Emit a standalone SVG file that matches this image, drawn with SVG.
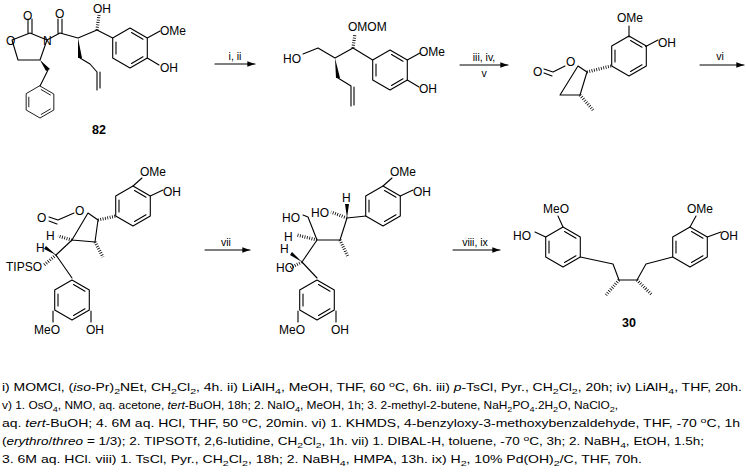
<svg xmlns="http://www.w3.org/2000/svg" xmlns:xlink="http://www.w3.org/1999/xlink" width="746" height="475" viewBox="0 0 746 475">
<style>
.b{fill:none;stroke:#000;stroke-width:1.1;stroke-linecap:round;stroke-linejoin:round}
.h{fill:none;stroke:#000;stroke-width:3.2;stroke-dasharray:0.8,1.6}
.w{fill:#000;stroke:none}
text{font-family:"Liberation Sans",Arial,sans-serif;font-size:12px;fill:#000}
.n{font-size:10.5px}
.lb{font-weight:bold;font-size:12.5px}
.s{font-size:8px}
</style>
<defs>
<g id="bz"><polygon class="b" points="0,-20 17.3,-10 17.3,10 0,20 -17.3,10 -17.3,-10"/><path class="b" d="M1.5,-15.5 L13,-8.8 M13,8.8 L1.5,15.5 M-14,6 L-14,-6"/></g>
<marker id="ar" viewBox="0 0 10 10" refX="10" refY="5" markerWidth="8" markerHeight="7" orient="auto"><path d="M0,1.5 L10,5 L0,8.5 Z" fill="#000"/></marker>
</defs>

<g id="c82">
<path class="b" d="M30,33 L12,40 L18,60 L40,60 L47,40 Z M28,33 L28,19 M32,33 L32,19 M47,40 L60,33 L78,38 M58,33 L58,19 M62,33 L62,19 M48,70 L40,86 M80,58 L90,64 L97,72 L97,90 M100,72 L100,88 M78,38 L97,30 L112.7,38 M147.3,38 L160,31 M147.3,58 L159,65"/>
<polygon class="w" points="40,60 50,69 46,71"/>
<polygon class="w" points="78,38 82,58 78,58"/>
<line class="h" x1="97" y1="30" x2="99" y2="15"/>
<use xlink:href="#bz" x="130" y="48"/>
<g transform="translate(40,102) scale(0.8)"><use xlink:href="#bz"/></g>
<text x="23" y="20">O</text><text x="6" y="45">O</text><text x="43" y="45">N</text><text x="55" y="18">O</text>
<text x="93" y="13">OH</text><text x="160" y="35">OMe</text><text x="160" y="72">OH</text>
<text class="lb" x="92" y="134">82</text>
</g>

<g id="c2">
<path class="b" d="M303,54 L318,48 L335,58 L353,48 L372.7,60 M338,78 L351,86 L351,106 M354,87 L354,105 M407.3,60 L420,53 M407.3,80 L419,87"/>
<polygon class="w" points="335,58 340,78 336,78"/>
<line class="h" x1="353" y1="48" x2="355" y2="34"/>
<use xlink:href="#bz" x="390" y="70"/>
<text x="283" y="63">HO</text><text x="348" y="31">OMOM</text><text x="419" y="56">OMe</text><text x="419" y="93">OH</text>
</g>

<g id="c3">
<path class="b" d="M553,72 L565,66 M578,66 L587,72 L580,95 L560,95 Z M544,69 L553,72 M544,73 L552,76 M629,37 L629,26 M645.7,46.5 L658,40"/>
<line class="h" x1="587" y1="72" x2="611" y2="66"/>
<line class="h" x1="580" y1="95" x2="593" y2="110"/>
<use xlink:href="#bz" x="629" y="56"/>
<text x="533" y="76">O</text><text x="566" y="66">O</text><text x="617" y="22">OMe</text><text x="658" y="47">OH</text>
</g>

<g id="c4">
<path class="b" d="M58,220 L74,213 M88,213 L98,220 L95,242 L72,240 Z M49,217 L58,220 M49,221 L57,224 M72,240 L56,255 L72,278 M133,186 L142,178 M150.3,196 L163,190 M53,311 L53,322 M91,311 L91,322"/>
<line class="h" x1="98" y1="220" x2="116" y2="216"/>
<line class="h" x1="95" y1="242" x2="103" y2="257"/>
<line class="h" x1="72" y1="240" x2="58" y2="236"/>
<line class="h" x1="56" y1="255" x2="44" y2="265"/>
<polygon class="w" points="56,255 44,249 46,246"/>
<use xlink:href="#bz" x="133" y="206"/>
<use xlink:href="#bz" x="72" y="300"/>
<text x="37" y="222">O</text><text x="75" y="215">O</text>
<text x="46" y="240">H</text><text x="36" y="252">H</text><text x="6" y="271">TIPSO</text>
<text x="140" y="176">OMe</text><text x="163" y="196">OH</text>
<text x="34" y="334">MeO</text><text x="86" y="334">OH</text>
</g>

<g id="c5">
<path class="b" d="M303,215 L308,217 L317,240 L340,240 L347,218 L366,216 M317,240 L302,262 L317,278 M383,186 L392,178 M400.3,196 L413,190 M298,311 L298,322 M336,311 L336,322"/>
<line class="h" x1="317" y1="240" x2="297" y2="235"/>
<line class="h" x1="340" y1="240" x2="348" y2="257"/>
<line class="h" x1="347" y1="218" x2="331" y2="212"/>
<line class="h" x1="302" y1="262" x2="290" y2="268"/>
<polygon class="w" points="302,262 290,255 292,252"/>
<polygon class="w" points="347,218 345,204 349,204"/>
<use xlink:href="#bz" x="383" y="206"/>
<use xlink:href="#bz" x="317" y="300"/>
<text x="282" y="222">HO</text><text x="311" y="217">HO</text><text x="342" y="202">H</text>
<text x="284" y="241">H</text><text x="280" y="253">H</text><text x="276" y="272">HO</text>
<text x="390" y="176">OMe</text><text x="413" y="196">OH</text>
<text x="279" y="334">MeO</text><text x="331" y="334">OH</text>
</g>

<g id="c30">
<path class="b" d="M545.7,237 L535,232 M563,227 L558,216 M580.3,257 L613,264 L619,280 L637,280 L646,264 L672.7,257 M690,227 L696,216 M707.3,237 L721,232"/>
<line class="h" x1="619" y1="280" x2="606" y2="295"/>
<line class="h" x1="637" y1="280" x2="652" y2="295"/>
<use xlink:href="#bz" x="563" y="247"/>
<use xlink:href="#bz" x="690" y="247"/>
<text x="531" y="240" text-anchor="end">HO</text><text x="543" y="213">MeO</text>
<text x="687" y="213">OMe</text><text x="720" y="240">OH</text>
<text class="lb" x="622" y="327">30</text>
</g>

<g id="arrows">
<line class="b" x1="215" y1="64" x2="255" y2="64" marker-end="url(#ar)"/>
<line class="b" x1="460" y1="65" x2="508" y2="65" marker-end="url(#ar)"/>
<line class="b" x1="700" y1="65" x2="744" y2="65" marker-end="url(#ar)"/>
<line class="b" x1="205" y1="250" x2="250" y2="250" marker-end="url(#ar)"/>
<line class="b" x1="453" y1="250" x2="500" y2="250" marker-end="url(#ar)"/>
<text class="n" x="235" y="60" text-anchor="middle">i, ii</text>
<text class="n" x="484" y="61" text-anchor="middle">iii, iv,</text>
<text class="n" x="484" y="77" text-anchor="middle">v</text>
<text class="n" x="720" y="60" text-anchor="middle">vi</text>
<text class="n" x="226" y="246" text-anchor="middle">vii</text>
<text class="n" x="475" y="246" text-anchor="middle">viii, ix</text>
</g>

<g id="notes" class="n">
<text class="n" x="2" y="391" textLength="740" lengthAdjust="spacingAndGlyphs">i) MOMCl, (<tspan font-style="italic">iso</tspan>-Pr)<tspan class="s" dy="3">2</tspan><tspan dy="-3">NEt, CH</tspan><tspan class="s" dy="3">2</tspan><tspan dy="-3">Cl</tspan><tspan class="s" dy="3">2</tspan><tspan dy="-3">, 4h. ii) LiAlH</tspan><tspan class="s" dy="3">4</tspan><tspan dy="-3">, MeOH, THF, 60 </tspan><tspan class="s" dy="-4">o</tspan><tspan dy="4">C, 6h. iii) </tspan><tspan font-style="italic">p</tspan>-TsCl, Pyr., CH<tspan class="s" dy="3">2</tspan><tspan dy="-3">Cl</tspan><tspan class="s" dy="3">2</tspan><tspan dy="-3">, 20h; iv) LiAlH</tspan><tspan class="s" dy="3">4</tspan><tspan dy="-3">, THF,  20h.</tspan></text>
<text class="n" x="2" y="409" textLength="616" lengthAdjust="spacingAndGlyphs">v) 1. OsO<tspan class="s" dy="3">4</tspan><tspan dy="-3">, NMO, aq. acetone, </tspan><tspan font-style="italic">tert</tspan>-BuOH, 18h; 2. NaIO<tspan class="s" dy="3">4</tspan><tspan dy="-3">, MeOH, 1h; 3. 2-methyl-2-butene, NaH</tspan><tspan class="s" dy="3">2</tspan><tspan dy="-3">PO</tspan><tspan class="s" dy="3">4</tspan><tspan dy="-3">.2H</tspan><tspan class="s" dy="3">2</tspan><tspan dy="-3">O, NaClO</tspan><tspan class="s" dy="3">2</tspan><tspan dy="-3">,</tspan></text>
<text class="n" x="2" y="427" textLength="738" lengthAdjust="spacingAndGlyphs">aq. <tspan font-style="italic">tert</tspan>-BuOH; 4. 6M aq. HCl, THF, 50 <tspan class="s" dy="-4">o</tspan><tspan dy="4">C, 20min. vi) 1. KHMDS, 4-benzyloxy-3-methoxybenzaldehyde, THF, -70 </tspan><tspan class="s" dy="-4">o</tspan><tspan dy="4">C, 1h</tspan></text>
<text class="n" x="2" y="445" textLength="702" lengthAdjust="spacingAndGlyphs">(<tspan font-style="italic">erythro</tspan>/<tspan font-style="italic">threo</tspan> = 1/3); 2. TIPSOTf, 2,6-lutidine, CH<tspan class="s" dy="3">2</tspan><tspan dy="-3">Cl</tspan><tspan class="s" dy="3">2</tspan><tspan dy="-3">, 1h. vii) 1. DIBAL-H, toluene, -70 </tspan><tspan class="s" dy="-4">o</tspan><tspan dy="4">C, 3h; 2. NaBH</tspan><tspan class="s" dy="3">4</tspan><tspan dy="-3">, EtOH, 1.5h;</tspan></text>
<text class="n" x="2" y="463" textLength="640" lengthAdjust="spacingAndGlyphs">3. 6M aq. HCl. viii) 1. TsCl, Pyr., CH<tspan class="s" dy="3">2</tspan><tspan dy="-3">Cl</tspan><tspan class="s" dy="3">2</tspan><tspan dy="-3">, 18h; 2. NaBH</tspan><tspan class="s" dy="3">4</tspan><tspan dy="-3">, HMPA, 13h. ix) H</tspan><tspan class="s" dy="3">2</tspan><tspan dy="-3">, 10% Pd(OH)</tspan><tspan class="s" dy="3">2</tspan><tspan dy="-3">/C, THF, 70h.</tspan></text>
</g>
</svg>
